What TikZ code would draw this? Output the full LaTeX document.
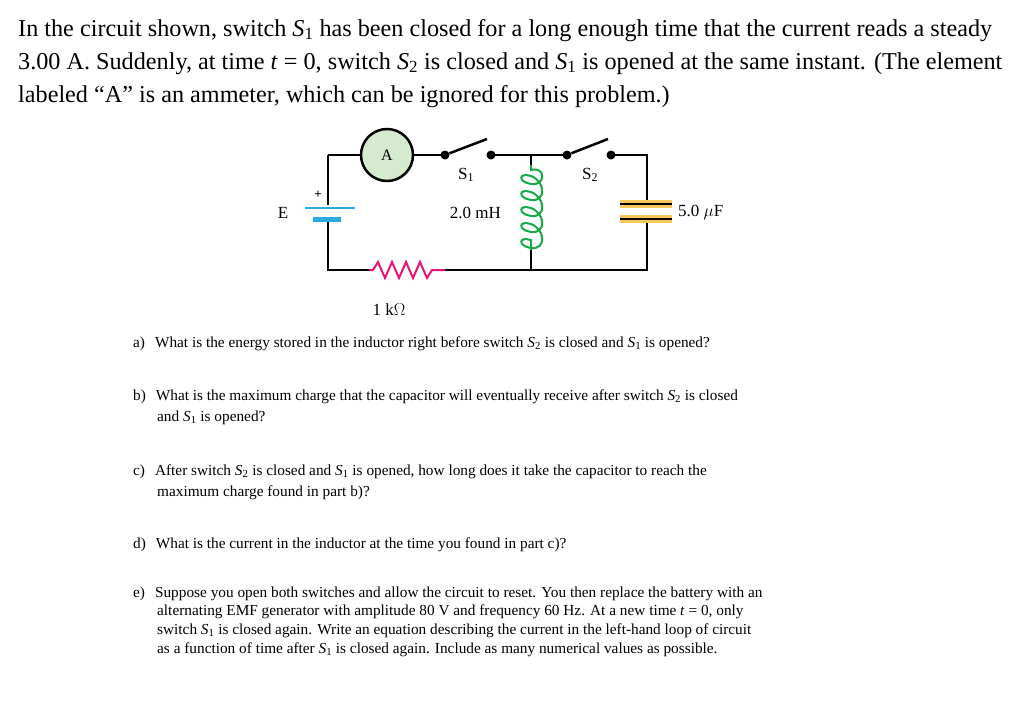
\documentclass[tikz,border=0pt]{standalone}
\usepackage{fontspec}
\setmainfont{Liberation Serif}
\definecolor{amgreen}{RGB}{214,234,208}
\definecolor{batblue}{RGB}{40,170,225}
\definecolor{capyel}{RGB}{250,200,90}
\definecolor{resred}{RGB}{230,20,120}
\definecolor{indgreen}{RGB}{20,170,70}
\newcommand{\sw}[1]{\textit{S}\textsubscript{#1}}
\tikzset{
 wire/.style={line width=2.5pt},
 big/.style={font=\fontsize{24.2}{28}\selectfont, anchor=base west, inner sep=0},
 qtext/.style={font=\fontsize{15.3}{19}\selectfont, anchor=base west, inner sep=0},
 lab/.style={font=\fontsize{17}{18}\selectfont, inner sep=0},
 dot/.style={circle, fill=black, minimum size=9pt, inner sep=0},
}
\begin{document}
\begin{tikzpicture}[x=1pt,y=-1pt]
\useasboundingbox (0,0) rectangle (1024,713);
\node[big] (l1) at (18,36) {In the circuit shown, switch \sw{1} has been closed for a long enough time that the current reads a steady};
\node[big] (l2) at (18,69) {3.00 A. Suddenly, at time \textit{t} = 0, switch \sw{2} is closed and \sw{1} is opened at the same instant. (The element};
\node[big] (l3) at (18,102) {labeled “A” is an ammeter, which can be ignored for this problem.)};
% circuit coordinates
\coordinate (TL) at (328,155); \coordinate (BL) at (328,270);
\coordinate (TR) at (647,155); \coordinate (BR) at (647,270);
\coordinate (IT) at (531,155); \coordinate (IB) at (531,270);
% wires
\draw[wire] (TL) -- (361,155); \draw[wire] (413,155) -- (443,155);
\draw[wire] (493,155) -- (565,155); \draw[wire] (613,155) -- (TR) -- (647,204);
\draw[wire] (647,219) -- (BR) -- (BL) -- (TL);
\fill[white] (369,262) rectangle (445,278);
\draw[wire] (TL) -- (328,205); \fill[white] (320,205) rectangle (336,220);
\draw[wire] (IT) -- (531,165); \draw[wire] (531,250) -- (IB);
% ammeter
\node[circle, draw, line width=2.5pt, fill=amgreen, minimum size=52pt, inner sep=0, font=\fontsize{16}{16}\selectfont] (am) at (387,155) {A};
% switches
\node[dot] (s1a) at (445,155) {}; \node[dot] (s1b) at (491,155) {};
\draw[line width=2.5pt] (s1a) -- (487,139);
\node[dot] (s2a) at (567,155) {}; \node[dot] (s2b) at (611,155) {};
\draw[line width=2.5pt] (s2a) -- (608,139);
\node[lab] (s1l) at (466,175) {S\textsubscript{1}};
\node[lab] (s2l) at (590,175) {S\textsubscript{2}};
% battery
\draw[line width=2.5pt, batblue] (305,208) -- (355,208);
\draw[line width=5pt, batblue] (313,219) -- (341,219);
\node[font=\bfseries\fontsize{13}{13}\selectfont] (plus) at (318,195) {+};
\node[lab] (E) at (283,213) {E};
% capacitor
\fill[capyel] (620,200) rectangle (672,208);
\fill[capyel] (620,215) rectangle (672,223);
\draw[line width=2.5pt] (620,204) -- (672,204);
\draw[line width=2.5pt] (620,219) -- (672,219);
\node[lab, anchor=west] (cl) at (678,213) {5.0 $\mu$F};
% inductor
\draw[indgreen, line width=2pt] (531,165) -- (531,170)
  \foreach \k in {0,...,4}{ .. controls (546,166+\k*16) and (546,186+\k*16) .. (531,184+\k*16) .. controls (518,182+\k*16) and (518,172+\k*16) .. (531,170+\k*16+6)} -- (531,250);
\node[lab, anchor=east] (il) at (501,213) {2.0 mH};
% resistor
\draw[resred, line width=2pt] (369,270) -- (373,270) -- (378,262) -- (385,278) -- (392,262) -- (399,278) -- (406,262) -- (413,278) -- (420,262) -- (427,278) -- (432,270) -- (445,270);
\node[lab] (rl) at (389,310) {1 k$\Omega$};
% questions
\node[qtext] (qa) at (133,347) {a)\hspace{10pt}What is the energy stored in the inductor right before switch \sw{2} is closed and \sw{1} is opened?};
\node[qtext] (qb) at (133,400) {b)\hspace{10pt}What is the maximum charge that the capacitor will eventually receive after switch \sw{2} is closed};
\node[qtext] (qb2) at (157,421) {and \sw{1} is opened?};
\node[qtext] (qc) at (133,475) {c)\hspace{10pt}After switch \sw{2} is closed and \sw{1} is opened, how long does it take the capacitor to reach the};
\node[qtext] (qc2) at (157,496) {maximum charge found in part b)?};
\node[qtext] (qd) at (133,548) {d)\hspace{10pt}What is the current in the inductor at the time you found in part c)?};
\node[qtext] (qe) at (133,597) {e)\hspace{10pt}Suppose you open both switches and allow the circuit to reset. You then replace the battery with an};
\node[qtext] (qe2) at (157,615) {alternating EMF generator with amplitude 80 V and frequency 60 Hz. At a new time \textit{t} = 0, only};
\node[qtext] (qe3) at (157,634) {switch \sw{1} is closed again. Write an equation describing the current in the left-hand loop of circuit};
\node[qtext] (qe4) at (157,653) {as a function of time after \sw{1} is closed again. Include as many numerical values as possible.};
\end{tikzpicture}
\end{document}
